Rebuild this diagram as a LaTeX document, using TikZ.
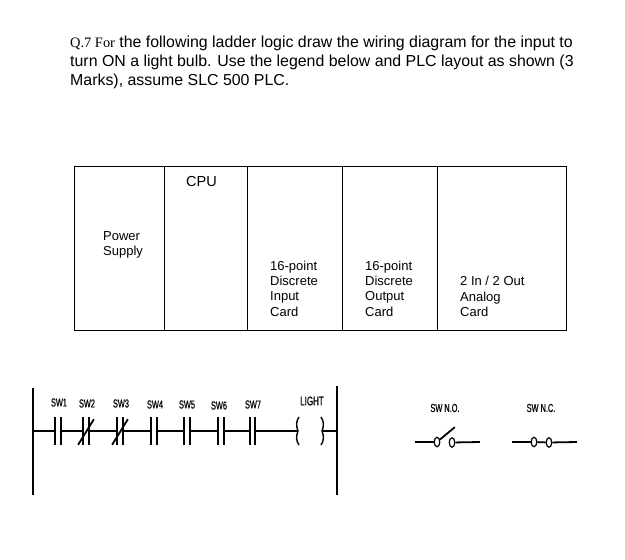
\documentclass[tikz,border=0pt]{standalone}
\usepackage{fontspec}
\usetikzlibrary{shapes.geometric}
\setmainfont{Liberation Sans}
\newfontfamily\serifpart{Liberation Serif}
\newfontfamily\narrowpart[FakeStretch=0.64,FakeBold=0.6]{Liberation Sans}
\tikzset{
  card/.style={draw, line width=0.8pt, anchor=north west, inner sep=0pt},
  cardtext/.style={anchor=north west, align=left, inner sep=0pt, font=\fontsize{13}{15.4}\selectfont},
  tag/.style={inner sep=0pt, font=\narrowpart\fontsize{11.5}{12}\selectfont},
  plate/.style={fill, inner sep=0pt, minimum width=2.2pt, minimum height=28pt},
  rail/.style={fill, inner sep=0pt, minimum width=2pt},
  wire/.style={line width=1.8pt},
  terminal/.style={ellipse, draw, line width=1.2pt, inner sep=0pt, minimum width=5.5pt, minimum height=9.5pt},
  dot/.style={inner sep=0pt, minimum size=0pt}
}
\begin{document}
\begin{tikzpicture}[x=1pt,y=-1pt]
\useasboundingbox (0,0) rectangle (625,560);
% question
\node[anchor=north west, align=left, inner sep=0pt, font=\fontsize{15.9}{19}\selectfont] (question) at (70,36)
  {{\serifpart\fontsize{14.4}{19}\selectfont Q.7 For} the following ladder logic draw the wiring diagram for the input to\\
   turn ON a light bulb. Use the legend below and PLC layout as shown (3\\
   Marks), assume SLC 500 PLC.};
% PLC rack
\node[card, minimum width=90pt, minimum height=164pt] (power) at (74,166){};
\node[card, minimum width=83pt, minimum height=164pt] (cpu) at (164,166){};
\node[card, minimum width=95pt, minimum height=164pt] (incard) at (247,166){};
\node[card, minimum width=95pt, minimum height=164pt] (outcard) at (342,166){};
\node[card, minimum width=129pt, minimum height=164pt] (analog) at (437,166){};
\node[cardtext] (powertext) at (103,231){Power\\Supply};
\node[cardtext, font=\fontsize{14.5}{15}\selectfont] (cputext) at (186,176){CPU};
\node[cardtext] (intext) at (270,260.5){16-point\\Discrete\\Input\\Card};
\node[cardtext] (outtext) at (365,260.5){16-point\\Discrete\\Output\\Card};
\node[cardtext] (analogtext) at (460,276){2 In / 2 Out\\Analog\\Card};
% ladder rung
\node[rail, minimum height=107pt] (railL) at (33,441.5){};
\node[rail, minimum height=109pt] (railR) at (337,440.5){};
\node[dot] (rungL) at (33,431){};
\node[dot] (rungR) at (337,431){};
\node[plate] (sw1a) at (55,431){};
\node[plate] (sw1b) at (61,431){};
\node[plate] (sw2a) at (83,431){};
\node[plate] (sw2b) at (89,431){};
\node[plate] (sw3a) at (117,431){};
\node[plate] (sw3b) at (123,431){};
\node[plate] (sw4a) at (151,431){};
\node[plate] (sw4b) at (157,431){};
\node[plate] (sw5a) at (184,431){};
\node[plate] (sw5b) at (190,431){};
\node[plate] (sw6a) at (218,431){};
\node[plate] (sw6b) at (224,431){};
\node[plate] (sw7a) at (250,431){};
\node[plate] (sw7b) at (255,431){};
\node[dot] (coilL) at (298,431){};
\node[dot] (coilR) at (322,431){};
\draw[wire](rungL) -- (sw1a);
\draw[wire](sw1b) -- (sw2a);
\draw[wire](sw2b) -- (sw3a);
\draw[wire](sw3b) -- (sw4a);
\draw[wire](sw4b) -- (sw5a);
\draw[wire](sw5b) -- (sw6a);
\draw[wire](sw6b) -- (sw7a);
\draw[wire](sw7b) -- (coilL);
\draw[wire](coilR) -- (rungR);
% slashes on the closed contacts
\node[dot] (sw2s) at (78,445){};
\node[dot] (sw2e) at (94,419){};
\node[dot] (sw3s) at (112,445){};
\node[dot] (sw3e) at (128,419){};
\draw[wire](sw2s) -- (sw2e);
\draw[wire](sw3s) -- (sw3e);
% coil
\draw[line width=1.4pt](coilL.center) .. controls (296,436) and (296,441) .. (299,445);
\draw[line width=1.4pt](coilL.center) .. controls (296,426) and (296,421) .. (299,417);
\draw[line width=1.4pt](coilR.center) .. controls (324,436) and (324,441) .. (321,445);
\draw[line width=1.4pt](coilR.center) .. controls (324,426) and (324,421) .. (321,417);
% labels
\node[tag] (sw1) at (59,402.5){SW1};
\node[tag] (sw2) at (87,403.5){SW2};
\node[tag] (sw3) at (121,403.5){SW3};
\node[tag] (sw4) at (155,404.5){SW4};
\node[tag] (sw5) at (187,404.5){SW5};
\node[tag] (sw6) at (219,405.5){SW6};
\node[tag] (sw7) at (253,404.5){SW7};
\node[tag, font=\narrowpart\fontsize{12.5}{12}\selectfont] (light) at (312,401){LIGHT};
% legend
\node[tag] (nolabel) at (445,408){SW N.O.};
\node[tag] (nclabel) at (541,408){SW N.C.};
\node[dot] (no0) at (415,442){};
\node[terminal] (no1) at (437,442){};
\node[terminal] (no2) at (452,442.5){};
\node[dot] (no3) at (480,442){};
\node[dot] (noarm) at (455,427){};
\draw[wire](no0) -- (no1);
\draw[wire](no2) -- (no3);
\draw[wire](no1) -- (noarm);
\node[dot] (nc0) at (512,442){};
\node[terminal] (nc1) at (534,442){};
\node[terminal] (nc2) at (549,442.5){};
\node[dot] (nc3) at (577,442){};
\draw[wire](nc0) -- (nc1);
\draw[wire](nc2) -- (nc3);
\draw[wire](nc1) -- (nc2);
\end{tikzpicture}
\end{document}
